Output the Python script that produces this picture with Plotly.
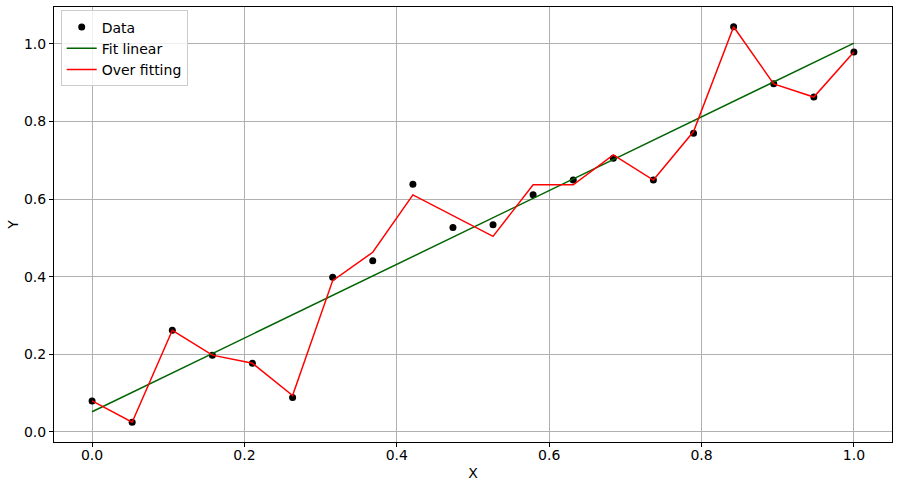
import plotly.graph_objects as go


x_data = [0.0, 0.0526, 0.1053, 0.1579, 0.2105, 0.2632, 0.3158, 0.3684, 0.4211, 0.4737,
          0.5263, 0.5789, 0.6316, 0.6842, 0.7368, 0.7895, 0.8421, 0.8947, 0.9474, 1.0]
y_data = [0.080, 0.025, 0.262, 0.198, 0.177, 0.089, 0.399, 0.441, 0.638, 0.527,
          0.534, 0.611, 0.649, 0.705, 0.649, 0.770, 1.044, 0.897, 0.863, 0.979]

fit_x = [0.0, 1.0]
fit_y = [0.052, 1.002]

over_y = [0.080, 0.025, 0.262, 0.198, 0.177, 0.094, 0.390, 0.463, 0.611, 0.557,
          0.504, 0.637, 0.637, 0.714, 0.649, 0.774, 1.044, 0.897, 0.863, 0.979]

tick_vals = [0.0, 0.2, 0.4, 0.6, 0.8, 1.0]
tick_text = ["0.0", "0.2", "0.4", "0.6", "0.8", "1.0"]

fig = go.Figure()

fig.add_trace(go.Scatter(x=x_data, y=y_data, mode="markers", name="Data",
                         marker=dict(color="black", size=7)))
fig.add_trace(go.Scatter(x=fit_x, y=fit_y, mode="lines", name="Fit linear",
                         line=dict(color="darkgreen", width=1.5)))
fig.add_trace(go.Scatter(x=x_data, y=over_y, mode="lines", name="Over fitting",
                         line=dict(color="red", width=1.5)))

axis_style = dict(showgrid=True, gridcolor="#b0b0b0", gridwidth=0.8,
                  zeroline=False, showline=True, linecolor="black", linewidth=1,
                  mirror=True, ticks="outside", ticklen=4, tickcolor="black",
                  tickvals=tick_vals, ticktext=tick_text, automargin=False,
                  tickfont=dict(size=14, color="black"))

fig.update_xaxes(range=[-0.05, 1.05], ticklabelstandoff=-4,
                 title=dict(text="X", font=dict(size=14, color="black"), standoff=6),
                 **axis_style)
fig.update_yaxes(range=[-0.0258, 1.095],
                 title=dict(text="Y", font=dict(size=14, color="black"), standoff=2),
                 **axis_style)

fig.update_layout(width=898, height=488,
                  margin=dict(l=54, r=6, t=7, b=46),
                  plot_bgcolor="white", paper_bgcolor="white",
                  font=dict(family="DejaVu Sans", size=14, color="black"),
                  legend=dict(x=0.008, y=0.992, xanchor="left", yanchor="top",
                              bgcolor="rgba(255,255,255,0.8)", bordercolor="#cccccc",
                              borderwidth=1, font=dict(size=14)))

# page body has a default 8px margin, drop it so the figure sits at the corner
fig.write_html("out.html", config={"displayModeBar": False},
               post_script="document.body.style.margin = '0';")
